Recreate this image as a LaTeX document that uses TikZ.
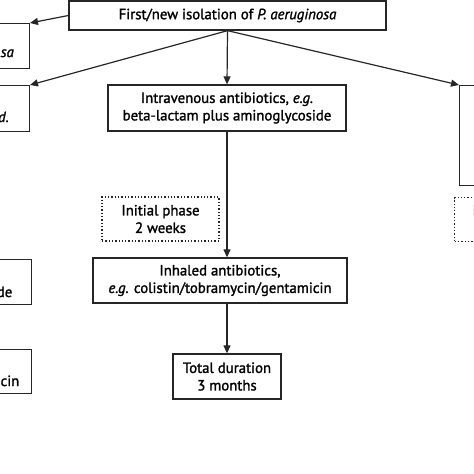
\documentclass[tikz,border=0pt]{standalone}
\usepackage{fontspec}
\setmainfont{PT Sans}[FakeBold=1.5]
\usetikzlibrary{arrows.meta}

\begin{document}
\begin{tikzpicture}[x=1pt, y=-1pt,
    box/.style={draw=black!85, line width=1.3pt, inner sep=0pt, align=center,
        font=\fontsize{14.8}{17.5}\selectfont},
    phase/.style={box, dotted, line width=1.4pt},
    frag/.style={inner sep=0pt, anchor=base east, font=\fontsize{14.8}{17.5}\selectfont},
    arr/.style={-{Triangle[length=8pt,width=7pt]}, line width=1.2pt, draw=black!85}]

    \useasboundingbox (0,0) rectangle (474,474);
    \clip (0,0) rectangle (474,474);

    % middle column
    \node[box, minimum width=317, minimum height=29] (iso) at (227.5,15.5)
        {First/new isolation of \textit{P. aeruginosa}};
    \node[box, minimum width=238, minimum height=46] (iv) at (227,108)
        {Intravenous antibiotics, \textit{e.g.}\\beta-lactam plus aminoglycoside};
    \node[phase, minimum width=117, minimum height=44] (ivtime) at (160.5,219)
        {Initial phase\\2 weeks};
    \node[box, minimum width=254, minimum height=45] (inh) at (220,280.5)
        {Inhaled antibiotics,\\\textit{e.g.} colistin/tobramycin/gentamicin};
    \node[box, minimum width=108, minimum height=45] (tot) at (227,376.5)
        {Total duration\\3 months};

    % boxes cut off at the sides
    \node[box, anchor=north east, minimum width=120, minimum height=45] (la) at (30,23) {};
    \node[box, anchor=north east, minimum width=120, minimum height=46] (lb) at (30,85) {};
    \node[box, anchor=north east, minimum width=120, minimum height=45] (lc) at (32,259) {};
    \node[box, anchor=north east, minimum width=120, minimum height=44] (ld) at (32,349) {};
    \node[box, anchor=north west, minimum width=120, minimum height=100] (ra) at (459,85) {};
    \node[phase, anchor=north west, minimum width=117, minimum height=44] (rb) at (454,197) {};
    \node[inner sep=0pt, align=center, font=\fontsize{14.8}{17.5}\selectfont,
        text=black!40] (rbtxt) at (511.5,219) {Initial phase\\2 weeks};

    \node[frag] (latxt) at (14,57) {\textit{sa}};
    \node[frag] (lbtxt) at (9,122) {\textit{d.}};
    \node[frag] (lctxt) at (12.5,297) {de};
    \node[frag] (ldtxt) at (19.5,386) {cin};

    % connectors
    \draw[arr] (iso.west) -- (la.north east);
    \draw[arr] (iso.south) -- (lb.north east);
    \draw[arr] (iso.south) -- (iv.north);
    \draw[arr] (iso.south) -- (ra.north west);
    \draw[arr] (iv.south) -- (iv.south |- inh.north);
    \draw[arr] (iv.south |- inh.south) -- (tot.north);
\end{tikzpicture}
\end{document}
